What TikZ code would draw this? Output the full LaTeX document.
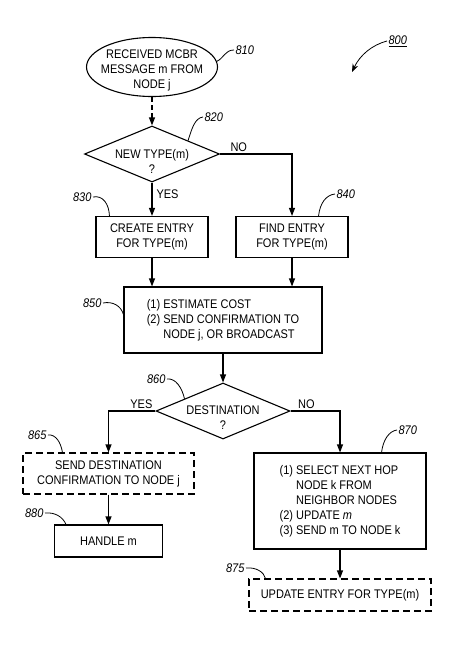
\documentclass[tikz,border=0pt]{standalone}
\usepackage{fontspec}
\setmainfont{Liberation Sans}[FakeStretch=0.88]
\usetikzlibrary{shapes.geometric,arrows.meta,calc}
\begin{document}
\begin{tikzpicture}[x=1pt,y=-1pt,
  every node/.style={font=\fontsize{12.5}{15}\selectfont},
  line width=1.1pt,
  box/.style={draw, rectangle, inner sep=0pt, align=center, line width=1.1pt},
  dbox/.style={box, dash pattern=on 7pt off 4pt},
  dia/.style={draw, diamond, inner sep=0pt},
  arr/.style={-{Triangle[length=8pt,width=6pt]}},
  ref/.style={font=\fontsize{12.5}{15}\selectfont\itshape, inner sep=1pt},
  lead/.style={line width=0.8pt}
]
\useasboundingbox (0,0) rectangle (474,645);

% nodes
\node[draw, ellipse, minimum width=131pt, minimum height=59pt, inner sep=0pt] (e810) at (152,67) {};
\node[align=center, inner sep=0pt] (t810) at (152,70) {RECEIVED MCBR\\MESSAGE m FROM\\NODE j};

\node[dia, minimum width=135pt, minimum height=56pt] (d820) at (152,154) {};
\node[align=center, inner sep=0pt] (t820) at (152,161) {NEW TYPE(m)\\?};

\node[box, minimum width=112pt, minimum height=41pt] (b830) at (152,237) {CREATE ENTRY\\FOR TYPE(m)};
\node[box, minimum width=112pt, minimum height=41pt] (b840) at (292,237) {FIND ENTRY\\FOR TYPE(m)};

\node[box, minimum width=198pt, minimum height=66pt, align=left] (b850) at (223,320)
  {(1) ESTIMATE COST\\(2) SEND CONFIRMATION TO\\\phantom{(2) }NODE j, OR BROADCAST};

\node[dia, minimum width=134pt, minimum height=56pt] (d860) at (223,411) {};
\node[align=center, inner sep=0pt] (t860) at (223,418) {DESTINATION\\?};

\node[dbox, minimum width=171pt, minimum height=41pt] (b865) at (108.5,473.5) {SEND DESTINATION\\CONFIRMATION TO NODE j};
\node[box, minimum width=172pt, minimum height=96pt, align=left] (b870) at (340,501)
  {(1) SELECT NEXT HOP\\\phantom{(1) }NODE k FROM\\\phantom{(1) }NEIGHBOR NODES\\(2) UPDATE \textit{m}\\(3) SEND m TO NODE k};
\node[box, minimum width=108pt, minimum height=32pt] (b880) at (108.5,541) {HANDLE m};
\node[dbox, minimum width=182pt, minimum height=32pt] (b875) at (340,595) {UPDATE ENTRY FOR TYPE(m)};

% connectors
\draw[arr, dash pattern=on 5pt off 3pt] (e810.south) -- (d820.north);
\draw[arr] (d820.south) -- node[pos=.35, right, inner sep=4pt] {YES} (b830.north);
\draw[arr] (d820.east) -| node[pos=.13, above, inner sep=2pt] {NO} (b840.north);
\draw[arr] (b830.south) -- (b830.south |- b850.north);
\draw[arr] (b840.south) -- (b840.south |- b850.north);
\draw[arr] (b850.south) -- (d860.north);
\draw[arr] (d860.west) -| node[pos=.15, above, inner sep=2pt] {YES} (b865.north);
\draw[arr] (d860.east) -| node[pos=.16, above, inner sep=2pt] {NO} (b870.north);
\draw[arr] (b865.south) -- (b880.north);
\draw[arr] (b870.south) -- (b875.north);

% reference numerals
\node[ref, anchor=west] (r810) at (234,50) {810};
\draw[lead] (e810.5) .. controls (224,58) and (225,50) .. (r810.west);

\node[ref, anchor=west] (r820) at (203,117) {820};
\draw[lead] ($(d820.north)!0.53!(d820.east)$) .. controls (192,128) and (195,118) .. (r820.west);

\node[ref, anchor=east] (r830) at (93,197) {830};
\draw[lead] (r830.east) .. controls (103,195) and (109,204) .. ($(b830.north west)+(14,0)$);

\node[ref, anchor=west] (r840) at (335,194) {840};
\draw[lead] ($(b840.north east)+(-30,0)$) .. controls (320,203) and (326,195) .. (r840.west);

\node[ref, anchor=east] (r850) at (103,303) {850};
\draw[lead] (r850.east) .. controls (113,301) and (121,306) .. ($(b850.north west)+(0,28)$);

\node[ref, anchor=east] (r860) at (167,379) {860};
\draw[lead] (r860.east) .. controls (176,378) and (182,388) .. ($(d860.west)!0.43!(d860.north)$);

\node[ref, anchor=east] (r865) at (48,435) {865};
\draw[lead] (r865.east) .. controls (56,434) and (61,443) .. ($(b865.north west)+(40,0)$);

\node[ref, anchor=west] (r870) at (397,430) {870};
\draw[lead] ($(b870.north east)+(-45,0)$) .. controls (383,440) and (389,431) .. (r870.west);

\node[ref, anchor=east] (r880) at (45,513) {880};
\draw[lead] (r880.east) .. controls (55,512) and (63,517) .. ($(b880.north west)+(12,0)$);

\node[ref, anchor=east] (r875) at (246,568) {875};
\draw[lead] (r875.east) .. controls (256,567) and (264,572) .. ($(b875.north west)+(17,0)$);

\node[ref, anchor=west] (r800) at (387,41) {\underline{800}};
\coordinate (c800) at (352,72);
\draw[lead, -{Stealth[length=8pt,width=6pt]}] (r800.west) .. controls (372,45) and (360,55) .. (c800);
\end{tikzpicture}
\end{document}
